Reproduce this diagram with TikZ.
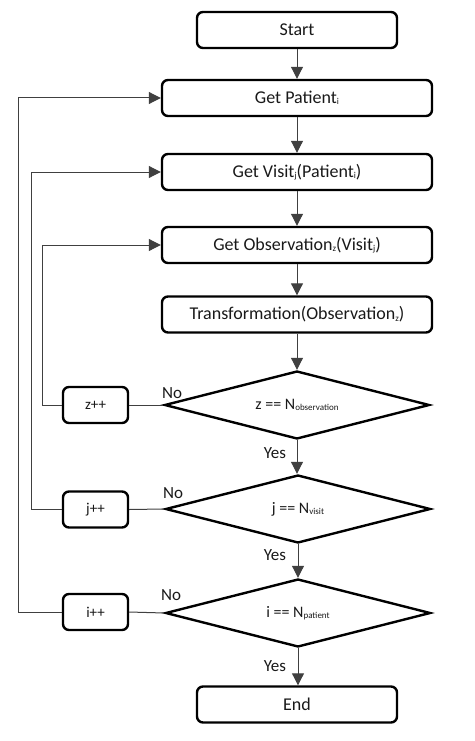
\documentclass[tikz,border=0pt]{standalone}
\usepackage{fontspec}
\setmainfont{Carlito}
\usetikzlibrary{shapes.geometric,arrows.meta}
\newcommand\sbs[1]{\raisebox{-1.2pt}{\fontsize{9}{9}\selectfont #1}}
\begin{document}
\begin{tikzpicture}[x=1pt,y=-1pt,
  proc/.style={draw=black,line width=2.4pt,rounded corners=6pt,minimum width=270pt,minimum height=36pt,inner sep=0pt,font=\fontsize{18}{18}\selectfont,text=black!90},
  term/.style={proc,minimum width=200pt},
  inc/.style={proc,minimum width=65pt,font=\fontsize{15}{15}\selectfont},
  dec/.style={draw=black,line width=2.4pt,diamond,aspect=3.9,minimum width=265pt,minimum height=68pt,inner sep=0pt,font=\fontsize{16}{16}\selectfont,text=black!90},
  conn/.style={draw=black!75,line width=1pt},
  arr/.style={conn,-{Triangle[length=12pt,width=12pt]}},
  lab/.style={font=\fontsize{17}{17}\selectfont,text=black!90,inner sep=0pt}]
\useasboundingbox (0,0) rectangle (474,741);
\node[term] (start) at (297,30) {Start};
\node[proc] (pat) at (297,98) {Get Patient\sbs{i}};
\node[proc] (vis) at (297,172) {Get Visit\sbs{j}(Patient\sbs{i})};
\node[proc] (obs) at (297,245) {Get Observation\sbs{z}(Visit\sbs{j})};
\node[proc] (tr) at (297,314.5) {Transformation(Observation\sbs{z})};
\node[dec] (d1) at (297,405) {z == N\sbs{observation}};
\node[dec] (d2) at (298,509) {j == N\sbs{visit}};
\node[dec] (d3) at (298,613) {i == N\sbs{patient}};
\node[term] (end) at (297,704.5) {End};
\node[inc] (zi) at (95.5,405) {z++};
\node[inc] (ji) at (95.5,509.5) {j++};
\node[inc] (ii) at (95.5,612) {i++};
\draw[arr] (start) -- (pat);
\draw[arr] (pat) -- (vis);
\draw[arr] (vis) -- (obs);
\draw[arr] (obs) -- (tr);
\draw[arr] (tr.south) -- (tr.south |- d1.north);
\draw[arr] (d1.south) -- (d1.south |- d2.north);
\draw[arr] (d2.south) -- (d2.south |- d3.north);
\draw[arr] (d3.south) -- (d3.south |- end.north);
\draw[conn] (d1.west) -- (zi.east);
\draw[conn] (d2.west) -- (ji.east);
\draw[conn] (d3.west) -- (ii.east);
\draw[arr] (zi.west) -- ++(-19,0) |- (obs.west);
\draw[arr] (ji.west) -- ++(-30,0) |- (vis.west);
\draw[arr] (ii.west) -- ++(-43,0) |- (pat.west);
\node[lab] (no1) at (172,393) {No};
\node[lab] (no2) at (173,493) {No};
\node[lab] (no3) at (171,595) {No};
\node[lab] (yes1) at (275,453) {Yes};
\node[lab] (yes2) at (275,555) {Yes};
\node[lab] (yes3) at (275,666) {Yes};
\end{tikzpicture}
\end{document}
